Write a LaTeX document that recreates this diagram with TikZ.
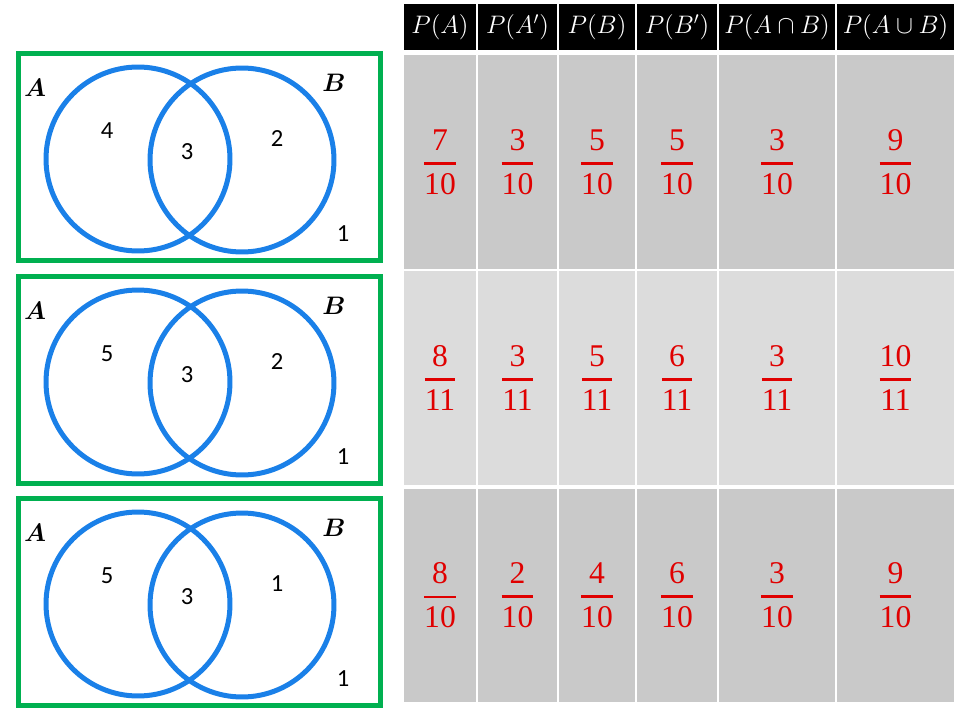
\documentclass[tikz,border=0pt]{standalone}
\usepackage{amsmath,bm}
\usepackage[no-math]{fontspec}
\setmainfont{Carlito}
\newfontfamily\fracfont{Liberation Serif}
\definecolor{VennBlue}{HTML}{1A80E8}
\definecolor{VennGreen}{HTML}{00B050}
\definecolor{CellGrey}{HTML}{C9C9C9}
\definecolor{CellLight}{HTML}{DCDCDC}
\definecolor{FracRed}{HTML}{E00000}

\tikzset{
  headcell/.style={fill=black,text=white,minimum height=0.92cm,inner sep=0pt,font=\fontsize{14}{16}\selectfont},
  datacell/.style={minimum height=4.28cm,inner sep=0pt,text=FracRed,font=\fontsize{18}{20}\selectfont},
  vennbox/.style={draw=VennGreen,line width=0.1cm,minimum width=7.26cm,minimum height=4.16cm,inner sep=0pt},
  venncircle/.style={circle,draw=VennBlue,line width=0.1cm,minimum size=3.68cm,inner sep=0pt},
  setname/.style={font=\fontsize{14}{16}\selectfont},
  count/.style={font=\fontsize{14}{16}\selectfont}
}
\newcommand{\prob}[2]{$\genfrac{}{}{1.6pt}{0}{\hbox{\fracfont #1}}{\hbox{\fracfont #2}}$}

\begin{document}
\begin{tikzpicture}[x=0.02cm,y=-0.02cm]
\useasboundingbox (0,0) rectangle (960,720);

% table header
\foreach \c/\x/\w/\hd in {1/440/1.44/{P(A)},2/517.5/1.58/{P(A')},3/597/1.52/{P(B)},
                          4/677/1.60/{P(B')},5/777/2.32/{P(A\cap B)},6/895.5/2.34/{P(A\cup B)}}
  \node[headcell,minimum width=\w cm] (h\c) at (\x,27) {$\hd$};

% table rows
\foreach \r/\y/\shade/\den/\nums in {1/162/CellGrey/10/{7,3,5,5,3,9},
                                     2/378/CellLight/11/{8,3,5,6,3,10},
                                     3/595.5/CellGrey/10/{8,2,4,6,3,9}}
  \foreach \n [count=\c] in \nums {
    \pgfmathsetmacro\w{{1.44,1.58,1.52,1.60,2.32,2.34}[\c-1]}
    \node[datacell,fill=\shade,minimum width=\w cm] (p\r\c) at (h\c |- 0,\y) {\prob{\n}{\den}};
  }

% venn diagrams
\foreach \b/\o/\na/\nab/\nb/\nout in {1/0/4/3/2/1,2/223/5/3/2/1,3/445/5/3/1/1} {
  \node[vennbox] (box\b) at (199.5,157+\o) {};
  \node[venncircle] (ca\b) at (138,159+\o) {};
  \node[venncircle] (cb\b) at (242,160+\o) {};
  \node[setname] (la\b) at (35,88+\o) {$\bm{A}$};
  \node[setname] (lb\b) at (334,83+\o) {$\bm{B}$};
  \node[count] (na\b) at (107,131+\o) {\na};
  \node[count] (nab\b) at (187,152+\o) {\nab};
  \node[count] (nb\b) at (277,139+\o) {\nb};
  \node[count] (nout\b) at (343,234+\o) {\nout};
}
\end{tikzpicture}
\end{document}
